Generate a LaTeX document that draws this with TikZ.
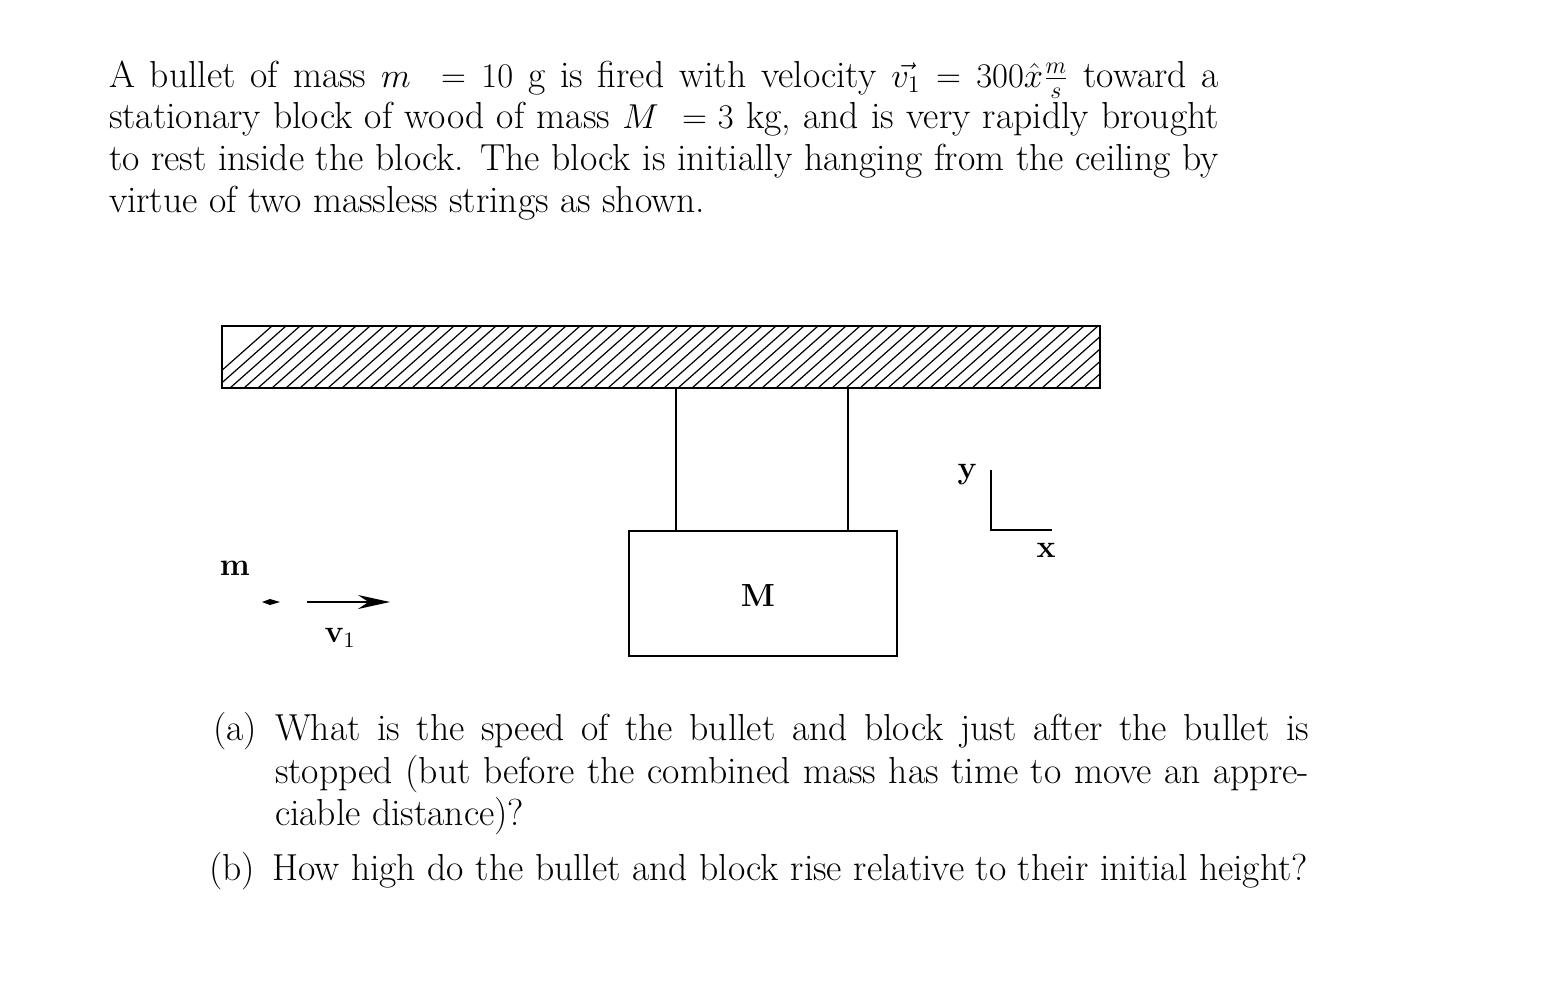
\documentclass[tikz,border=0pt]{standalone}
\usetikzlibrary{patterns,arrows.meta}
\begin{document}
\begin{tikzpicture}[x=0.5pt,y=-0.5pt,line width=1pt,
  txt/.style={anchor=base west,inner sep=0pt,font=\fontsize{18.8}{22}\selectfont},
  lab/.style={font=\fontsize{16}{19}\selectfont\bfseries}]
\useasboundingbox (0,0) rectangle (1566,996);
\node[txt] (l1) at (108,87) {\makebox[555pt][s]{A bullet of mass $m\ = 10$ g is fired with velocity $\vec{v_1} = 300\hat{x}\frac{m}{s}$ toward a}};
\node[txt] (l2) at (108,128) {\makebox[555pt][s]{stationary block of wood of mass $M\ = 3$ kg, and is very rapidly brought}};
\node[txt] (l3) at (108,170) {\makebox[555pt][s]{to rest inside the block. The block is initially hanging from the ceiling by}};
\node[txt] (l4) at (108,212) {virtue of two massless strings as shown.};
\begin{scope}
\clip (222,326) rectangle (1100,388);
\foreach \i in {0,...,70} {\draw[line width=0.6pt] (222+14*\i-20,388) -- (222+14*\i+50,326);}
\end{scope}
\draw (222,326) rectangle (1100,388);
\node[draw,minimum width=134pt,minimum height=62.5pt,inner sep=0pt] (blk) at (763,593.5) {};
\node[lab] at (758,596) {M};
\draw (676,388) -- (676,531);
\draw (848,388) -- (848,531);
\coordinate (ay) at (991,470); \coordinate (ao) at (991,530); \coordinate (ax) at (1052,530);
\draw (ay) -- (ao) -- (ax);
\node[lab] at (967,475) {y};
\node[lab] at (1046,550) {x};
\node[lab] (m) at (235,568) {m};
\fill (262,602) -- (270,599) -- (280,602) -- (270,605) -- cycle;
\coordinate (a1) at (307,602); \coordinate (a2) at (390,602);
\draw[-{Stealth[length=16pt,width=7pt]}] (a1) -- (a2);
\node[lab] at (340,638) {v$_1$};
\node[txt] at (212,740) {(a)};
\node[txt] at (274,740) {\makebox[517pt][s]{What is the speed of the bullet and block just after the bullet is}};
\node[txt] at (274,783) {\makebox[517pt][s]{stopped (but before the combined mass has time to move an appre-}};
\node[txt] at (274,825) {ciable distance)?};
\node[txt] at (208,880) {(b)};
\node[txt] at (271,880) {\makebox[518pt][s]{How high do the bullet and block rise relative to their initial height?}};
\end{tikzpicture}
\end{document}
